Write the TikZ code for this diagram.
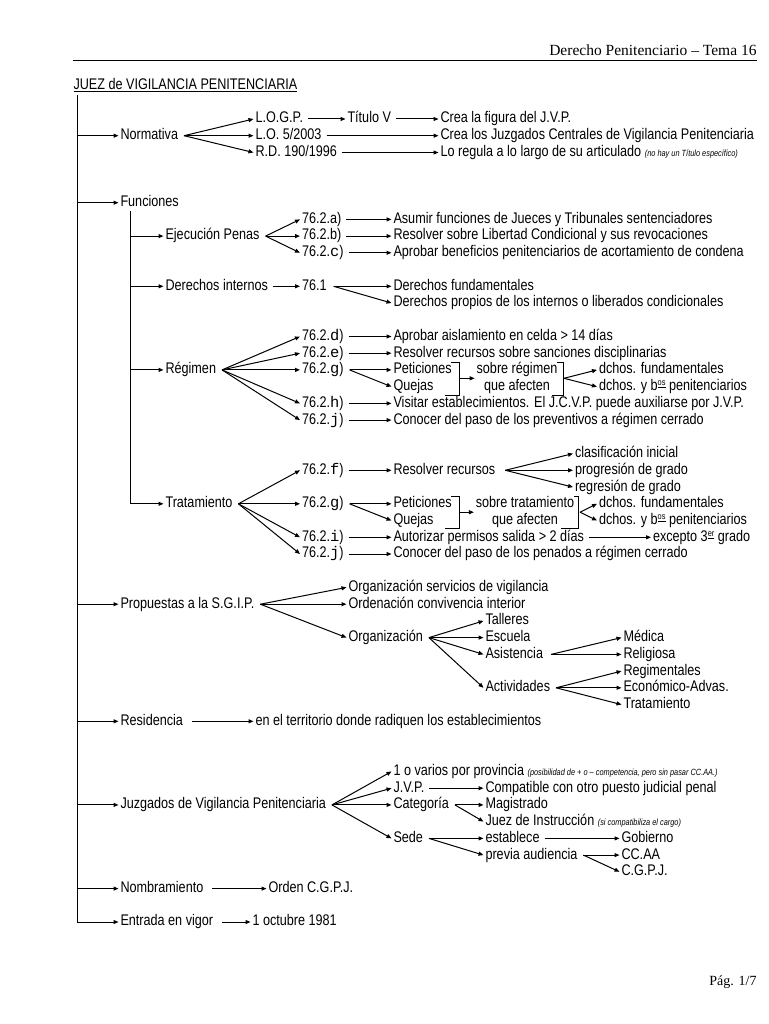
\documentclass[tikz,border=0pt]{standalone}
\usepackage{fontspec}
\setmainfont[FakeStretch=0.82]{Liberation Sans}
\newfontfamily\headfont{Liberation Serif}
\newfontfamily\letfont{Liberation Mono}
\usetikzlibrary{arrows.meta}

\newcommand{\ordsup}[1]{\raisebox{0.6ex}{\fontsize{9}{9}\selectfont\underline{#1}}}
\newcommand{\smallnote}[1]{{\fontsize{9}{10}\selectfont\itshape #1}}

\tikzset{every picture/.style={line width=1pt}}
\tikzset{
  lbl/.style={anchor=west, inner sep=1.5pt, text height=10.8pt, text depth=3pt},
  mid/.style={anchor=center, inner sep=1.5pt, text height=10.8pt, text depth=3pt},
  arr/.style={-{Triangle[length=5pt,width=4pt]}},
  arrg/.style={arr, shorten <=3pt},
}

\begin{document}
\begin{tikzpicture}[x=1pt,y=1pt,yscale=-1,font=\fontsize{15.4}{17}\selectfont]
\useasboundingbox (0,0) rectangle (768,1024);

% Header
\node [anchor=base east, inner sep=0pt, font=\headfont\fontsize{15.5}{18}\selectfont] (head) at (757,56) {Derecho Penitenciario – Tema 16};
\draw [line width=1pt] (73,61) -- (757,61);
\node [anchor=base east, inner sep=0pt, font=\headfont\fontsize{14}{16}\selectfont] (pag) at (757,985) {Pág. 1/7};

% Title and trunk
\node [lbl] (juez) at (71.5,86) {\underline{JUEZ de VIGILANCIA PENITENCIARIA}};
\coordinate (trunk) at (77,95);

% Normativa
\node [lbl] (norm) at (118.5,135.7) {Normativa};
\node [lbl] (logp) at (253.5,119) {L.O.G.P.};
\node [lbl] (lo) at (253.5,135.7) {L.O. 5/2003};
\node [lbl] (rd) at (253.5,152.5) {R.D. 190/1996};
\node [lbl] (tit) at (345.5,119) {Título V};
\node [lbl] (crea) at (438.5,119) {Crea la figura del J.V.P.};
\node [lbl] (creajc) at (438.5,135.7) {Crea los Juzgados Centrales de Vigilancia Penitenciaria};
\node [lbl] (regula) at (438.5,152.5) {Lo regula a lo largo de su articulado \smallnote{(no hay un Título específico)}};
\draw [arr] ([xshift=4pt]norm.east) -- (logp.west);
\draw [arr] ([xshift=4pt]norm.east) -- (lo.west);
\draw [arr] ([xshift=4pt]norm.east) -- (rd.west);
\draw [arrg] (logp.east) -- (tit.west);
\draw [arrg] (tit.east) -- (crea.west);
\draw [arrg] (lo.east) -- (creajc.west);
\draw [arrg] (rd.east) -- (regula.west);

% Funciones
\node [lbl] (func) at (118.5,202.7) {Funciones};
\coordinate (ftrunk) at (130,211);

% Ejecucion Penas
\node [lbl] (ejec) at (163.5,236.1) {Ejecución Penas};
\node [lbl] (la) at (300,219.4) {76.2.a)};
\node [lbl] (lb) at (300,236.1) {76.2.b)};
\node [lbl] (lc) at (300,252.8) {76.2.{\letfont c})};
\node [lbl] (asumir) at (391.5,219.4) {Asumir funciones de Jueces y Tribunales sentenciadores};
\node [lbl] (reslc) at (391.5,236.1) {Resolver sobre Libertad Condicional y sus revocaciones};
\node [lbl] (aprob) at (391.5,252.8) {Aprobar beneficios penitenciarios de acortamiento de condena};
\draw [arr] ([xshift=4pt]ejec.east) -- (la.west);
\draw [arr] ([xshift=4pt]ejec.east) -- (lb.west);
\draw [arr] ([xshift=4pt]ejec.east) -- (lc.west);
\draw [arrg] (la.east) -- (asumir.west);
\draw [arrg] (lb.east) -- (reslc.west);
\draw [arrg] (lc.east) -- (aprob.west);

% Derechos internos
\node [lbl] (dint) at (163.5,286.3) {Derechos internos};
\node [lbl] (p761) at (300,286.3) {76.1};
\node [lbl] (dfund) at (391.5,286.3) {Derechos fundamentales};
\node [lbl] (dprop) at (391.5,303) {Derechos propios de los internos o liberados condicionales};
\draw [arrg] (dint.east) -- (p761.west);
\draw [arr] ([xshift=5pt]p761.east) -- (dfund.west);
\draw [arr] ([xshift=5pt]p761.east) -- (dprop.west);

% Regimen
\node [lbl] (reg) at (163.5,369.9) {Régimen};
\node [lbl] (ld) at (300,336.5) {76.2.{\letfont d})};
\node [lbl] (le) at (300,353.2) {76.2.{\letfont e})};
\node [lbl] (lg) at (300,369.9) {76.2.{\letfont g})};
\node [lbl] (lh) at (300,403.4) {76.2.{\letfont h})};
\node [lbl] (lj) at (300,420.1) {76.2.{\letfont j})};
\node [lbl] (aisl) at (391.5,336.5) {Aprobar aislamiento en celda > 14 días};
\node [lbl] (recs) at (391.5,353.2) {Resolver recursos sobre sanciones disciplinarias};
\node [lbl] (pet) at (391.5,369.9) {Peticiones};
\node [lbl] (quej) at (391.5,386.7) {Quejas};
\node [mid] (sobreR) at (517,369.9) {sobre régimen};
\node [mid] (afecR) at (517,386.7) {que afecten};
\node [lbl] (dfundR) at (597,369.9) {dchos. fundamentales};
\node [lbl] (dbosR) at (597,386.7) {dchos. y b\ordsup{os} penitenciarios};
\node [lbl] (visit) at (391.5,403.4) {Visitar establecimientos. El J.C.V.P. puede auxiliarse por J.V.P.};
\node [lbl] (conocR) at (391.5,420.1) {Conocer del paso de los preventivos a régimen cerrado};
\draw [arr] ([xshift=4pt]reg.east) -- (ld.west);
\draw [arr] ([xshift=4pt]reg.east) -- (le.west);
\draw [arr] ([xshift=4pt]reg.east) -- (lg.west);
\draw [arr] ([xshift=4pt]reg.east) -- (lh.west);
\draw [arr] ([xshift=4pt]reg.east) -- (lj.west);
\draw [arrg] (ld.east) -- (aisl.west);
\draw [arrg] (le.east) -- (recs.west);
\draw [arr] ([xshift=4pt]lg.east) -- (pet.west);
\draw [arr] ([xshift=4pt]lg.east) -- (quej.west);
\draw [arrg] (lh.east) -- (visit.west);
\draw [arrg] (lj.east) -- (conocR.west);
%Brackets
\draw (451,362) -- (459,362) -- (459,395) -- (445,395);
\draw (557,362) -- (563,362) -- (563,395) -- (552,395);
\coordinate (brR) at (459,378.3);
\coordinate (brR2) at (564,378.3);
\draw [arr] (brR) -- (brR -| sobreR.west);
\draw [arr] (brR2) -- (dfundR.west);
\draw [arr] (brR2) -- (dbosR.west);

% Tratamiento
\node [lbl] (trat) at (163.5,503.8) {Tratamiento};
\node [lbl] (lf) at (300,470.3) {76.2.{\letfont f})};
\node [lbl] (lgT) at (300,503.8) {76.2.{\letfont g})};
\node [lbl] (li) at (300,537.3) {76.2.{\letfont i})};
\node [lbl] (ljT) at (300,554) {76.2.{\letfont j})};
\node [lbl] (resrec) at (391.5,470.3) {Resolver recursos};
\node [lbl] (clas) at (573,453.6) {clasificación inicial};
\node [lbl] (prog) at (573,470.3) {progresión de grado};
\node [lbl] (regr) at (573,487.1) {regresión de grado};
\node [lbl] (petT) at (391.5,503.8) {Peticiones};
\node [lbl] (quejT) at (391.5,520.5) {Quejas};
\node [mid] (sobreT) at (525,503.8) {sobre tratamiento};
\node [mid] (afecT) at (525,520.5) {que afecten};
\node [lbl] (dfundT) at (597,503.8) {dchos. fundamentales};
\node [lbl] (dbosT) at (597,520.5) {dchos. y b\ordsup{os} penitenciarios};
\node [lbl] (autor) at (391.5,537.3) {Autorizar permisos salida > 2 días};
\node [lbl] (exc) at (651,537.3) {excepto 3\ordsup{er} grado};
\node [lbl] (conocT) at (391.5,554) {Conocer del paso de los penados a régimen cerrado};
\draw [arr] ([xshift=4pt]trat.east) -- (lf.west);
\draw [arr] ([xshift=4pt]trat.east) -- (lgT.west);
\draw [arr] ([xshift=4pt]trat.east) -- (li.west);
\draw [arr] ([xshift=4pt]trat.east) -- (ljT.west);
\draw [arrg] (lf.east) -- (resrec.west);
\draw [arr] ([xshift=8pt]resrec.east) -- (clas.west);
\draw [arr] ([xshift=8pt]resrec.east) -- (prog.west);
\draw [arr] ([xshift=8pt]resrec.east) -- (regr.west);
\draw [arr] ([xshift=4pt]lgT.east) -- (petT.west);
\draw [arr] ([xshift=4pt]lgT.east) -- (quejT.west);
\draw [arrg] (li.east) -- (autor.west);
\draw [arrg] (autor.east) -- (exc.west);
\draw [arrg] (ljT.east) -- (conocT.west);
%Brackets
\draw (451,496) -- (459,496) -- (459,528.5) -- (445,528.5);
\draw (574,496) -- (578,496) -- (578,528.5) -- (561,528.5);
\coordinate (brT) at (459,512.2);
\coordinate (brT2) at (580,512.2);
\draw [arr] (brT) -- (brT -| sobreT.west);
\draw [arr] (brT2) -- (dfundT.west);
\draw [arr] (brT2) -- (dbosT.west);

% Propuestas a la S.G.I.P.
\node [lbl] (prop) at (118.5,604.2) {Propuestas a la S.G.I.P.};
\node [lbl] (orgserv) at (346.5,587.4) {Organización servicios de vigilancia};
\node [lbl] (orden) at (346.5,604.2) {Ordenación convivencia interior};
\node [lbl] (org) at (346.5,637.6) {Organización};
\node [lbl] (tall) at (483.5,620.9) {Talleres};
\node [lbl] (esc) at (483.5,637.6) {Escuela};
\node [lbl] (asis) at (483.5,654.4) {Asistencia};
\node [lbl] (activ) at (483.5,687.8) {Actividades};
\node [lbl] (medica) at (621.5,637.6) {Médica};
\node [lbl] (relig) at (621.5,654.4) {Religiosa};
\node [lbl] (regim) at (621.5,671.1) {Regimentales};
\node [lbl] (econ) at (621.5,687.8) {Económico-Advas.};
\node [lbl] (tratam) at (621.5,704.6) {Tratamiento};
\draw [arr] ([xshift=4pt]prop.east) -- (orgserv.west);
\draw [arr] ([xshift=4pt]prop.east) -- (orden.west);
\draw [arr] ([xshift=4pt]prop.east) -- (org.west);
\draw [arr] ([xshift=4pt]org.east) -- (tall.west);
\draw [arr] ([xshift=4pt]org.east) -- (esc.west);
\draw [arr] ([xshift=4pt]org.east) -- (asis.west);
\draw [arr] ([xshift=4pt]org.east) -- (activ.west);
\draw [arr] ([xshift=6pt]asis.east) -- (medica.west);
\draw [arr] ([xshift=6pt]asis.east) -- (relig.west);
\draw [arr] ([xshift=4pt]activ.east) -- (regim.west);
\draw [arr] ([xshift=4pt]activ.east) -- (econ.west);
\draw [arr] ([xshift=4pt]activ.east) -- (tratam.west);

% Residencia
\node [lbl] (resid) at (118.5,721.3) {Residencia};
\node [lbl] (territ) at (253.5,721.3) {en el territorio donde radiquen los establecimientos};
\draw [arrg] ([xshift=4pt]resid.east) -- (territ.west);

% Juzgados de Vigilancia Penitenciaria
\node [lbl] (juzg) at (118.5,804.9) {Juzgados de Vigilancia Penitenciaria};
\node [lbl] (varios) at (391.5,771.5) {1 o varios por provincia \smallnote{(posibilidad de + o – competencia, pero sin pasar CC.AA.)}};
\node [lbl] (jvp) at (391.5,788.2) {J.V.P.};
\node [lbl] (categ) at (391.5,804.9) {Categoría};
\node [lbl] (sede) at (391.5,838.4) {Sede};
\node [lbl] (compat) at (483.5,788.2) {Compatible con otro puesto judicial penal};
\node [lbl] (magis) at (483.5,804.9) {Magistrado};
\node [lbl] (juezi) at (483.5,821.6) {Juez de Instrucción \smallnote{(si compatibiliza el cargo)}};
\node [lbl] (estab) at (483.5,838.4) {establece};
\node [lbl] (previa) at (483.5,855.1) {previa audiencia};
\node [lbl] (gob) at (619.5,838.4) {Gobierno};
\node [lbl] (ccaa) at (619.5,855.1) {CC.AA};
\node [lbl] (cgpj) at (619.5,871.8) {C.G.P.J.};
\draw [arr] ([xshift=4pt]juzg.east) -- (varios.west);
\draw [arr] ([xshift=4pt]juzg.east) -- (jvp.west);
\draw [arr] ([xshift=4pt]juzg.east) -- (categ.west);
\draw [arr] ([xshift=4pt]juzg.east) -- (sede.west);
\draw [arrg] (jvp.east) -- (compat.west);
\draw [arr] ([xshift=4pt]categ.east) -- (magis.west);
\draw [arr] ([xshift=4pt]categ.east) -- (juezi.west);
\draw [arr] ([xshift=4pt]sede.east) -- (estab.west);
\draw [arr] ([xshift=4pt]sede.east) -- (previa.west);
\draw [arrg] (estab.east) -- (gob.west);
\draw [arr] ([xshift=4pt]previa.east) -- (ccaa.west);
\draw [arr] ([xshift=4pt]previa.east) -- (cgpj.west);

% Nombramiento
\node [lbl] (nomb) at (118.5,888.6) {Nombramiento};
\node [lbl] (ordencg) at (266.5,888.6) {Orden C.G.P.J.};
\draw [arrg] ([xshift=4pt]nomb.east) -- (ordencg.west);

% Entrada en vigor
\node [lbl] (entr) at (118.5,922) {Entrada en vigor};
\node [lbl] (oct) at (250.5,922) {1 octubre 1981};
\draw [arrg] ([xshift=4pt]entr.east) -- (oct.west);

% Branches
\draw [arr] (trunk |- norm.west) -- (norm.west);
\draw [arr] (trunk |- func.west) -- (func.west);
\draw [arr] (trunk |- prop.west) -- (prop.west);
\draw [arr] (trunk |- resid.west) -- (resid.west);
\draw [arr] (trunk |- juzg.west) -- (juzg.west);
\draw [arr] (trunk |- nomb.west) -- (nomb.west);
\draw [arr] (trunk) |- (entr.west);
\draw [arr] (ftrunk |- ejec.west) -- (ejec.west);
\draw [arr] (ftrunk |- dint.west) -- (dint.west);
\draw [arr] (ftrunk |- reg.west) -- (reg.west);
\draw [arr] (ftrunk) |- (trat.west);

\end{tikzpicture}
\end{document}
